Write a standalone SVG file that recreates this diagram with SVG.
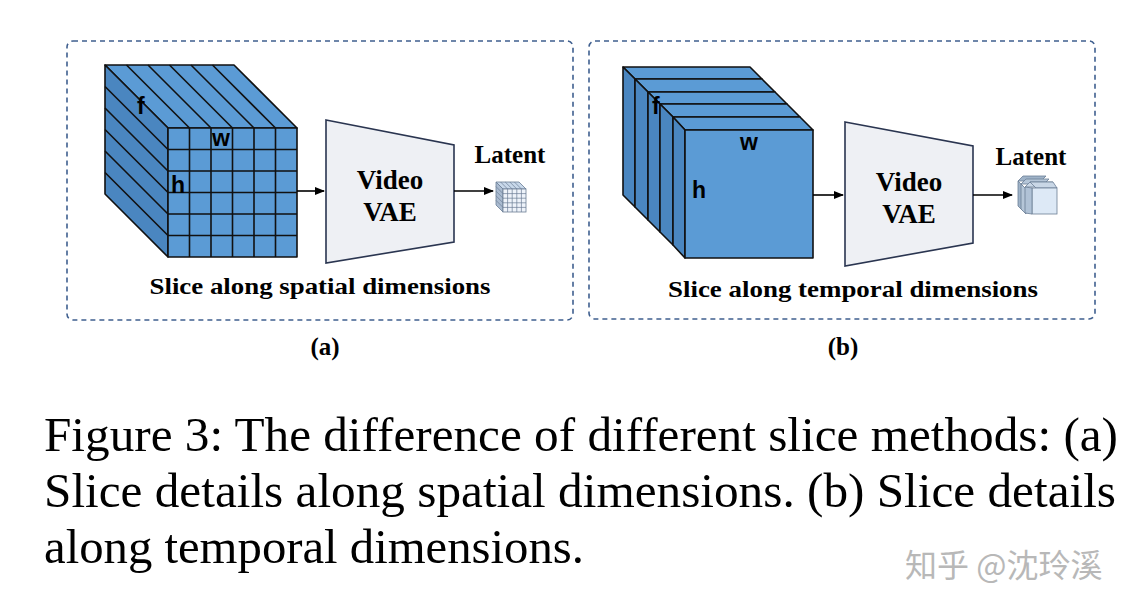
<svg xmlns="http://www.w3.org/2000/svg" width="1146" height="610" viewBox="0 0 1146 610">
<style>
.box{fill:none;stroke:#3f5f8f;stroke-width:1.6;stroke-dasharray:5,4}
.bl{fill:#5b9bd5;stroke:#111;stroke-width:1.6;stroke-linejoin:round}
.bd{fill:#4a86c0;stroke:#111;stroke-width:1.6;stroke-linejoin:round}
.ln{stroke:#111;stroke-width:1.6;fill:none}
.vae{fill:#eef0f4;stroke:#2a3550;stroke-width:1.6}
.t{font-family:"Liberation Serif",serif;font-weight:bold;fill:#000}
.s{font-family:"Liberation Sans",Arial,sans-serif;font-weight:bold;fill:#000;font-size:23px}
.cap{font-family:"Liberation Serif",serif;font-size:48px;fill:#000}
</style>
<defs><marker id="ah" markerWidth="10" markerHeight="8" refX="9" refY="4" orient="auto" markerUnits="userSpaceOnUse"><path d="M0,0L10,4L0,8z" fill="#000"/></marker></defs>
<rect class="box" x="67" y="41" width="506" height="279" rx="6"/>
<rect class="box" x="589" y="41" width="506" height="278" rx="6"/>
<g id="cubeA">
<path class="bl" d="M168,128L105,65L234,65L297,128Z"/>
<path class="bd" d="M168,128L105,65L105,194L168,257Z"/>
<rect class="bl" x="168" y="128" width="129" height="129"/>
<g class="ln">
<path d="M189.5,128L126.5,65M211,128L148,65M232.5,128L169.5,65M254,128L191,65M275.5,128L212.5,65"/>
<path d="M168,149.5L105,86.5M168,171L105,108M168,192.5L105,129.5M168,214L105,151M168,235.5L105,172.5"/>
<path d="M189.5,128V257M211,128V257M232.5,128V257M254,128V257M275.5,128V257"/>
<path d="M168,149.5H297M168,171H297M168,192.5H297M168,214H297M168,235.5H297"/>
</g>
<text class="s" x="137" y="114">f</text>
<text class="s" x="212" y="146">w</text>
<text class="s" x="171" y="193">h</text>
</g>
<g id="vaeA">
<path class="vae" d="M326,120L454,145L454,242L326,263Z"/>
<text class="t" x="390" y="189" font-size="27" text-anchor="middle">Video</text>
<text class="t" x="390" y="221" font-size="27" text-anchor="middle">VAE</text>
</g>
<g id="latentA">
<text class="t" x="510" y="163" font-size="25" text-anchor="middle">Latent</text>
<path d="M503,189L496,182L519,182L526,189Z" fill="#c8d8ea" stroke="#6b7d95" stroke-width="0.8"/>
<path d="M503,189L496,182L496,205L503,212Z" fill="#aabbd0" stroke="#6b7d95" stroke-width="0.8"/>
<rect x="503" y="189" width="23" height="23" fill="#eef3fa" stroke="#6b7d95" stroke-width="0.8"/>
<path d="M507.6,189V212M512.2,189V212M516.8,189V212M521.4,189V212M503,193.6H526M503,198.2H526M503,202.8H526M503,207.4H526M507.6,189L500.6,182M512.2,189L505.2,182M516.8,189L509.8,182M521.4,189L514.4,182M503,193.6L496,186.6M503,198.2L496,191.2M503,202.8L496,195.8M503,207.4L496,200.4" stroke="#6b7d95" stroke-width="0.7" fill="none"/>
</g>
<g id="cubeB">
<path class="bl" d="M623,67L750,67L762,79L635,79Z"/>
<path class="bd" d="M623,67L635,79L635,207L623,195Z"/>
<path class="bl" d="M635,79L762,79L775,92L648,92Z"/>
<path class="bd" d="M635,79L648,92L648,220L635,207Z"/>
<path class="bl" d="M648,92L775,92L787,104L660,104Z"/>
<path class="bd" d="M648,92L660,104L660,232L648,220Z"/>
<path class="bl" d="M660,104L787,104L800,117L673,117Z"/>
<path class="bd" d="M660,104L673,117L673,245L660,232Z"/>
<path class="bl" d="M673,117L800,117L813,130L685,130Z"/>
<path class="bd" d="M673,117L685,130L685,258L673,245Z"/>
<rect class="bl" x="685" y="130" width="128" height="128"/>
<text class="s" x="652" y="114">f</text>
<text class="s" x="740" y="150">w</text>
<text class="s" x="692" y="198">h</text>
</g>
<g id="vaeB">
<path class="vae" d="M845,122L973,146L973,243L845,266Z"/>
<text class="t" x="909" y="191" font-size="27" text-anchor="middle">Video</text>
<text class="t" x="909" y="223" font-size="27" text-anchor="middle">VAE</text>
</g>
<g id="latentB">
<text class="t" x="1031" y="165" font-size="25" text-anchor="middle">Latent</text>
<path d="M1018,181L1023,176L1046,176L1041,181ZM1018,181V206L1023,211V186Z" fill="#9fb3c8" stroke="#6b7d95" stroke-width="0.8"/>
<path d="M1021,184L1026,179L1049,179L1044,184ZM1021,184V209L1026,214V189Z" fill="#b5c6d8" stroke="#6b7d95" stroke-width="0.8"/>
<path d="M1025,187L1030,182L1053,182L1048,187Z" fill="#c9d7e6" stroke="#6b7d95" stroke-width="0.8"/>
<path d="M1030,182L1036,188L1057,188L1053,182Z" fill="#c9d7e6" stroke="#6b7d95" stroke-width="0.8"/>
<rect x="1032" y="188" width="25" height="26" fill="#dde9f6" stroke="#6b7d95" stroke-width="0.8"/>
<path d="M1025,187L1032,188V214L1025,213Z" fill="#b0c2d6" stroke="#6b7d95" stroke-width="0.8"/>
</g>
<g id="connectors" stroke="#000" stroke-width="1.6" fill="none">
<path d="M297,191H324" marker-end="url(#ah)"/>
<path d="M454,191H493" marker-end="url(#ah)"/>
<path d="M813,195H843" marker-end="url(#ah)"/>
<path d="M973,195H1012" marker-end="url(#ah)"/>
</g>
<text class="t" x="320" y="294" font-size="24" text-anchor="middle" textLength="341" lengthAdjust="spacingAndGlyphs">Slice along spatial dimensions</text>
<text class="t" x="853" y="297" font-size="24" text-anchor="middle" textLength="370" lengthAdjust="spacingAndGlyphs">Slice along temporal dimensions</text>
<text class="t" x="325" y="355" font-size="25" text-anchor="middle">(a)</text>
<text class="t" x="843" y="355" font-size="25" text-anchor="middle">(b)</text>
<text class="cap" x="44" y="451" textLength="1074" lengthAdjust="spacingAndGlyphs">Figure 3: The difference of different slice methods: (a)</text>
<text class="cap" x="44" y="507" textLength="1072" lengthAdjust="spacingAndGlyphs">Slice details along spatial dimensions. (b) Slice details</text>
<text class="cap" x="44" y="563" textLength="540" lengthAdjust="spacingAndGlyphs">along temporal dimensions.</text>
<text x="905" y="577" font-family="Noto Sans CJK SC,sans-serif" font-size="32" fill="#b8b8b8">知乎 @沈玲溪</text>
</svg>
